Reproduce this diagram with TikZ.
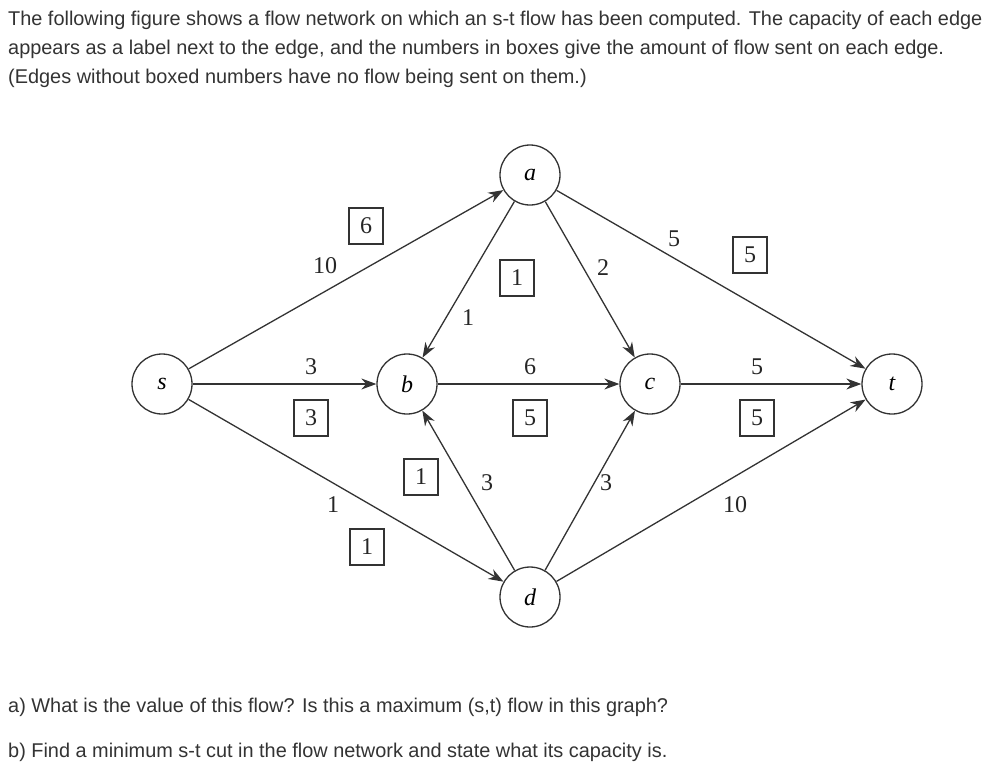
\documentclass[tikz,border=0pt]{standalone}
\usepackage{fontspec}
\setmainfont{Liberation Serif}
\newfontfamily\qfont{Liberation Sans}
\usetikzlibrary{arrows.meta}
\begin{document}
\begin{tikzpicture}[x=1pt,y=-1pt,
  vert/.style={draw=black!80,line width=1.3pt,circle,minimum size=60pt,inner sep=0pt,font=\fontsize{24}{26}\selectfont\itshape},
  edge/.style={draw=black!80,line width=1.3pt,-{Stealth[length=15pt,width=11pt]}},
  caplbl/.style={font=\fontsize{24}{26}\selectfont,text=black!85},
  flow/.style={draw=black!80,line width=1.1pt,minimum width=34pt,minimum height=36pt,inner sep=0pt,font=\fontsize{24}{26}\selectfont,text=black!85},
  q/.style={anchor=west,font=\qfont\fontsize{19.9}{22}\selectfont,text=black!80,inner sep=0pt}]
\useasboundingbox (0,0) rectangle (995,772);
\node[q] (t1) at (8,20) {The following figure shows a flow network on which an s-t flow has been computed. The capacity of each edge};
\node[q] (t2) at (8,49) {appears as a label next to the edge, and the numbers in boxes give the amount of flow sent on each edge.};
\node[q] (t3) at (8,78) {(Edges without boxed numbers have no flow being sent on them.)};
\node[q] (qa) at (8,707) {a) What is the value of this flow? Is this a maximum (s,t) flow in this graph?};
\node[q] (qb) at (8,752) {b) Find a minimum s-t cut in the flow network and state what its capacity is.};
\node[vert] (s) at (162,384) {s};
\node[vert] (b) at (407,384) {b};
\node[vert] (c) at (650,384) {c};
\node[vert] (t) at (892,384) {t};
\node[vert] (a) at (530,175) {a};
\node[vert] (d) at (530,597) {d};
\draw[edge] (s) -- (a);
\draw[edge] (s) -- (b);
\draw[edge] (s) -- (d);
\draw[edge] (a) -- (b);
\draw[edge] (a) -- (c);
\draw[edge] (a) -- (t);
\draw[edge] (b) -- (c);
\draw[edge] (c) -- (t);
\draw[edge] (d) -- (b);
\draw[edge] (d) -- (c);
\draw[edge] (d) -- (t);
\node[caplbl] (l1) at (325,266) {10};
\node[flow] (f1) at (366,226) {6};
\node[flow] (f2) at (517,278) {1};
\node[caplbl] (l2) at (468,318) {1};
\node[caplbl] (l3) at (603,268) {2};
\node[caplbl] (l4) at (674,239) {5};
\node[flow] (f4) at (750,255) {5};
\node[caplbl] (l5) at (311,367) {3};
\node[flow] (f5) at (311,418) {3};
\node[caplbl] (l6) at (530,367) {6};
\node[flow] (f6) at (530,418) {5};
\node[caplbl] (l7) at (757,367) {5};
\node[flow] (f7) at (757,418) {5};
\node[flow] (f8) at (421,477) {1};
\node[caplbl] (l8) at (487,483) {3};
\node[caplbl] (l9) at (606,483) {3};
\node[caplbl] (l10) at (333,505) {1};
\node[flow] (f10) at (367,547) {1};
\node[caplbl] (l11) at (735,505) {10};
\end{tikzpicture}
\end{document}
